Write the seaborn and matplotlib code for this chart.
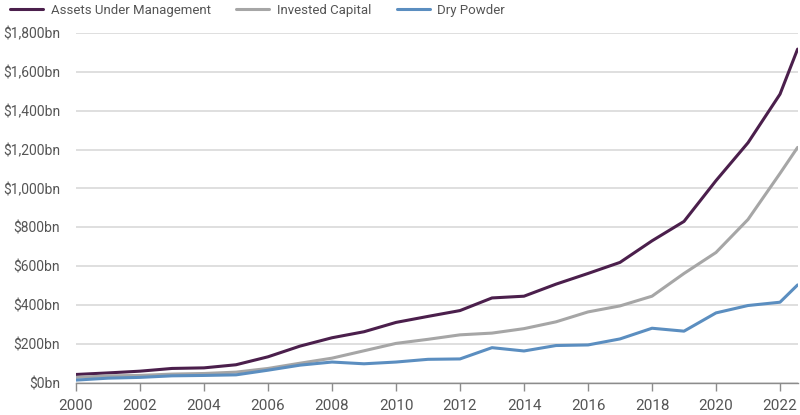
import pandas as pd
import seaborn as sns
import matplotlib.pyplot as plt
from matplotlib.ticker import FuncFormatter

# year positions (last point is a part-year reading)
years = [2000, 2001, 2002, 2003, 2004, 2005, 2006, 2007, 2008, 2009, 2010, 2011,
         2012, 2013, 2014, 2015, 2016, 2017, 2018, 2019, 2020, 2021, 2022, 2022.55]

aum = [42, 50, 59, 73, 76, 92, 133, 188, 231, 262, 310, 341,
       371, 436, 445, 507, 562, 619, 730, 830, 1040, 1235, 1485, 1717]
invested = [27, 35, 37, 44, 47, 54, 73, 100, 126, 164, 202, 223,
            246, 255, 278, 313, 364, 395, 445, 562, 670, 840, 1077, 1211]
dry_powder = [13, 23, 27, 35, 37, 40, 64, 90, 106, 97, 106, 120,
              122, 180, 163, 191, 194, 225, 280, 265, 359, 397, 414, 503]

series_names = ["Assets Under Management", "Invested Capital", "Dry Powder"]
colors = ["#4b1f4c", "#a6a6a6", "#5b8ec0"]

df = pd.DataFrame({"year": years,
                   series_names[0]: aum,
                   series_names[1]: invested,
                   series_names[2]: dry_powder})
long_df = df.melt(id_vars="year", var_name="series", value_name="value")

sns.set_style("white")
plt.rcParams["font.family"] = ["Roboto", "DejaVu Sans"]

fig = plt.figure(figsize=(8, 4.15), dpi=100)
ax = fig.add_axes([0.095, 0.078, 0.902, 0.8425])

sns.lineplot(data=long_df, x="year", y="value", hue="series",
             hue_order=series_names, palette=colors, linewidth=2.2,
             ax=ax, legend=False)

ax.set_xlim(2000, 2022.55)
ax.set_ylim(0, 1800)
ax.set_xticks(range(2000, 2023, 2))
ax.set_yticks(range(0, 1801, 200))
ax.yaxis.set_major_formatter(FuncFormatter(lambda v, p: "${:,.0f}bn".format(v)))

ax.grid(axis="y", color="#d9d9d9", linewidth=1.2)
ax.set_axisbelow(True)
for s in ["top", "right", "left"]:
    ax.spines[s].set_visible(False)
ax.spines["bottom"].set_color("#8c8c8c")
ax.spines["bottom"].set_linewidth(1.0)

ax.tick_params(axis="x", bottom=True, length=6, width=1, color="#8c8c8c",
               labelsize=11, labelcolor="#555555", pad=6)
ax.tick_params(axis="y", left=False, labelsize=10, labelcolor="#555555", pad=8)
ax.set_xlabel("")
ax.set_ylabel("")

handles = [plt.Line2D([], [], color=c, linewidth=2.2) for c in colors]
fig.legend(handles, series_names, loc="upper left", bbox_to_anchor=(-0.002, 1.02),
           ncol=3, frameon=False, fontsize=9.5, labelcolor="#555555",
           handlelength=2.5, handletextpad=0.6, columnspacing=1.9)

fig.savefig("out.png", dpi=100)
